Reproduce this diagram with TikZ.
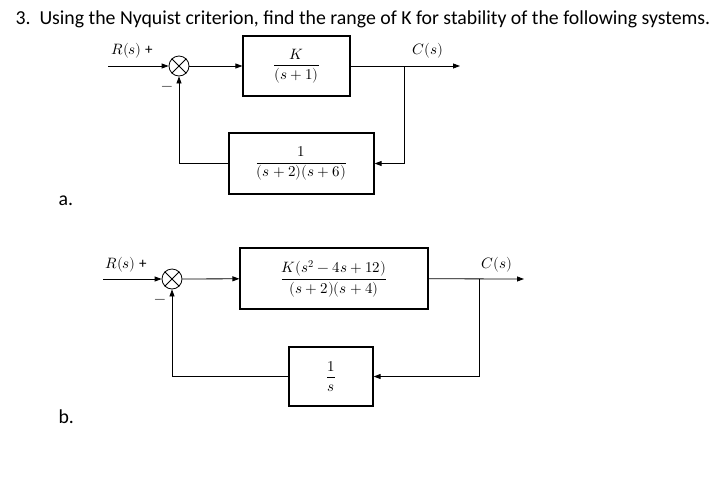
\documentclass[tikz,border=0pt]{standalone}
\usepackage{unicode-math}
\setmainfont{Carlito}
\setmathfont{Latin Modern Math}
\usetikzlibrary{arrows.meta}
\begin{document}
\begin{tikzpicture}[x=1pt,y=-1pt,
  blk/.style={draw,line width=1.2pt,inner sep=0pt},
  sumj/.style={draw,circle,minimum size=20pt,inner sep=0pt,line width=0.8pt},
  ln/.style={line width=0.8pt},
  ar/.style={ln,-{Triangle[length=7pt,width=5pt]}},
  lbl/.style={font=\fontsize{15}{16}\selectfont},
  ttl/.style={font=\fontsize{19.8}{22}\selectfont,anchor=west}]
\useasboundingbox (0,0) rectangle (728,480);
\node[ttl] (title) at (12,19) {3.\ \ Using the Nyquist criterion, find the range of K for stability of the following systems.};
\node[ttl] (la) at (55,201) {a.};
\node[ttl] (lb) at (55,417) {b.};
% system a
\coordinate (ina) at (108,66);
\node[sumj] (sa) at (179,66) {};
\draw[ln] (sa.45) -- (sa.225) (sa.135) -- (sa.315);
\node[blk,minimum width=107pt,minimum height=60pt] (ga) at (296.5,66) {};
\node[lbl] (gat) at (296.5,66) {$\displaystyle\frac{K}{(s+1)}$};
\node[blk,minimum width=145pt,minimum height=61pt] (ha) at (301.5,163.5) {};
\node[lbl] (hat) at (301.5,163.5) {$\displaystyle\frac{1}{(s+2)(s+6)}$};
\coordinate (outa) at (460,66);
\coordinate (bra) at (404,66);
\draw[ar] (ina) -- (sa);
\draw[ar] (sa) -- (ga);
\draw[ar] (ga) -- (outa);
\draw[ar] (bra) |- (ha.east);
\draw[ar] (ha.west) -| (sa.south);
\node[lbl] (ra) at (132,51) {$R(s)$ +};
\node[lbl] (ca) at (428,51) {$C(s)$};
\node[lbl] (ma) at (167,88) {$-$};
% system b
\coordinate (inb) at (103,279);
\node[sumj] (sb) at (172,279) {};
\draw[ln] (sb.45) -- (sb.225) (sb.135) -- (sb.315);
\node[blk,minimum width=188pt,minimum height=61pt] (gb) at (334,278.5) {};
\node[lbl] (gbt) at (334,278.5) {$\displaystyle\frac{K(s^2-4s+12)}{(s+2)(s+4)}$};
\node[blk,minimum width=84pt,minimum height=59pt] (hb) at (331,376.5) {};
\node[lbl] (hbt) at (331,376.5) {$\displaystyle\frac{1}{s}$};
\coordinate (outb) at (524,279);
\coordinate (brb) at (479,279);
\draw[ar] (inb) -- (sb);
\draw[ar] (sb) -- (gb);
\draw[ar] (gb) -- (outb);
\draw[ar] (brb) |- (hb.east);
\draw[ar] (hb.west) -| (sb.south);
\node[lbl] (rb) at (126,265) {$R(s)$ +};
\node[lbl] (cb) at (497,265) {$C(s)$};
\node[lbl] (mb) at (160,301) {$-$};
\end{tikzpicture}
\end{document}
